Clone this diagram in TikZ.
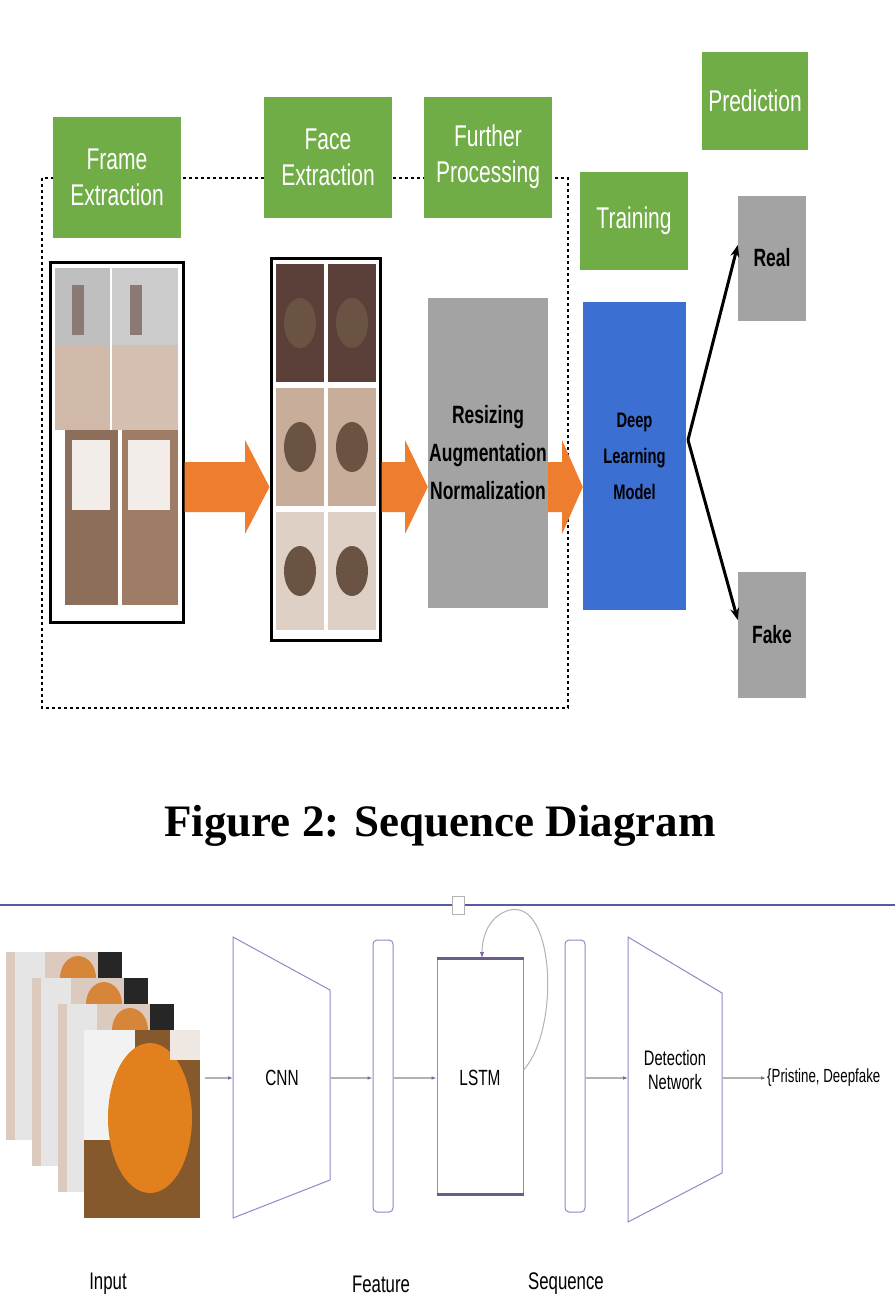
\documentclass[tikz,border=0pt]{standalone}
\usepackage{fontspec}
\setmainfont{Liberation Serif}
\newfontfamily\cond[FakeStretch=0.7]{Liberation Sans}
\usetikzlibrary{arrows.meta}
\definecolor{grn}{HTML}{70AD47}
\definecolor{gry}{HTML}{A3A3A3}
\definecolor{blu}{HTML}{3C6FD2}
\definecolor{org}{HTML}{EE7D2F}
\definecolor{pur}{HTML}{9A84C4}
\definecolor{skin}{HTML}{B08A70}
\definecolor{dsk}{HTML}{5A4038}
\begin{document}
\begin{tikzpicture}[x=1pt,y=-1pt,
  lbl/.style={fill=grn,text=white,font=\cond\fontsize{30}{36}\selectfont,align=center,inner sep=0pt},
  proc/.style={draw=none,font=\cond\bfseries\fontsize{25}{38}\selectfont,align=center,inner sep=0pt},
  pl/.style={draw=pur,line width=1pt},
  pa/.style={draw=gray!60,line width=2pt,-{Latex[length=5pt,color=pur!80!black]}},
  small/.style={font=\cond\fontsize{22}{24}\selectfont,align=center}]
\useasboundingbox (0,0) rectangle (895,1302);
\fill[white] (0,0) rectangle (895,1302);
\draw[dashed,line width=1.3pt] (42,178) rectangle (568,708);
\node[lbl,minimum width=128pt,minimum height=121pt] (l1) at (117,177) {Frame\\Extraction};
\node[lbl,minimum width=128pt,minimum height=121pt] (l2) at (328,157) {Face\\Extraction};
\node[lbl,minimum width=128pt,minimum height=121pt] (l3) at (488,157) {Further\\Processing};
\node[lbl,minimum width=108pt,minimum height=98pt] (l4) at (634,221) {Training};
\node[lbl,minimum width=106pt,minimum height=98pt] (l5) at (755,101) {Prediction};
% frame images
\fill[gray!50] (55,268) rectangle (110,345);
\fill[gray!40] (112,268) rectangle (178,345);
\fill[dsk!70] (72,285) rectangle (84,335);
\fill[dsk!70] (130,285) rectangle (142,335);
\fill[skin!60] (55,345) rectangle (110,430);
\fill[skin!55] (112,345) rectangle (178,430);
\fill[skin!80!black] (65,430) rectangle (118,605);
\fill[skin!90!black] (122,430) rectangle (178,605);
\fill[white!85!skin] (72,440) rectangle (110,510);
\fill[white!85!skin] (128,440) rectangle (170,510);
\node[draw,line width=3pt,minimum width=133pt,minimum height=360pt,inner sep=0pt] (fr) at (116.5,442) {};
% faces
\foreach \r/\c in {0/dsk,1/skin!70,2/white!60!skin}{
  \foreach \cc in {0,1}{
    \fill[\c] (276+\cc*52,264+\r*124) rectangle (324+\cc*52,382+\r*124);
    \fill[skin!60!black] (300+\cc*52,323+\r*124) ellipse (16 and 25);
  }}
\node[draw,line width=3pt,minimum width=109pt,minimum height=382pt,inner sep=0pt] (fc) at (325.5,449) {};
\node[proc,fill=gry,minimum width=120pt,minimum height=310pt] (gp) at (488,453) {Resizing\\Augmentation\\Normalization};
\node[proc,fill=blu,minimum width=103pt,minimum height=308pt,text width=103pt,font=\cond\bfseries\fontsize{21}{36}\selectfont] (dl) at (634.5,456) {Deep Learning\\Model};
\node[proc,fill=gry,minimum width=68pt,minimum height=125pt] (real) at (772,258) {Real};
\node[proc,fill=gry,minimum width=68pt,minimum height=126pt] (fake) at (772,635) {Fake};
% orange arrows
\fill[org] (fr.east|-0,462) -- (245,462) -- (245,440) -- (fc.west|-0,487) -- (245,534) -- (245,512) -- (fr.east|-0,512) -- cycle;
\fill[org] (fc.east|-0,462) -- (405,462) -- (405,440) -- (gp.west|-0,487) -- (405,534) -- (405,512) -- (fc.east|-0,512) -- cycle;
\fill[org] (gp.east|-0,462) -- (562,462) -- (562,440) -- (dl.west|-0,487) -- (562,534) -- (562,512) -- (gp.east|-0,512) -- cycle;
\coordinate (sp) at (688,440);
\draw[line width=3pt,-{Stealth[length=12pt]}] (sp) -- (real.west|-0,245);
\draw[line width=3pt,-{Stealth[length=12pt]}] (sp) -- (fake.west|-0,620);
\node[font=\bfseries\fontsize{45}{48}\selectfont] (cap) at (440,826) {Figure 2: Sequence Diagram};
% bottom
\draw[gray!70!blue,line width=1.5pt] (0,905) -- (895,905);
\draw[gray!60,fill=white] (452,896) rectangle (464,914);
\foreach \i in {0,1,2,3}{
  \fill[black!85] (\i*26+6,952+\i*26) rectangle (\i*26+122,1140+\i*26);
  \fill[skin!45] (\i*26+6,952+\i*26) rectangle (\i*26+98,1140+\i*26);
  \fill[white!80!gray] (\i*26+15,952+\i*26) rectangle (\i*26+45,1140+\i*26);
  \fill[orange!50!skin] (\i*26+78,978+\i*26) ellipse (18 and 22);
}
\fill[brown!70!black] (84,1030) rectangle (200,1218);
\fill[white!90!gray] (84,1030) rectangle (135,1140);
\fill[orange!55!brown] (150,1118) ellipse (42 and 75);
\fill[white!80!skin] (170,1030) rectangle (200,1060);
% CNN
\draw[pl,fill=white] (233,937) -- (330,990) -- (330,1180) -- (233,1218) -- cycle;
\node[small] (cnn) at (282,1078) {CNN};
\coordinate (cnnl) at (233,1078);
\coordinate (cnnr) at (330,1078);
\node[draw=pur,line width=1pt,rounded corners=4pt,minimum width=20pt,minimum height=272pt,inner sep=0pt] (feat) at (383,1076) {};
\node[draw=pur,line width=1pt,minimum width=86pt,minimum height=235pt,inner sep=0pt] (lstm) at (480,1076) {};
\draw[pur!70!black,line width=3pt] (lstm.north west) -- (lstm.north east);
\draw[pur!70!black,line width=3pt] (lstm.south west) -- (lstm.south east);
\node[small] at (480,1078) {LSTM};
\node[draw=pur,line width=1pt,rounded corners=4pt,minimum width=20pt,minimum height=272pt,inner sep=0pt] (seq) at (575,1076) {};
\draw[pl,fill=white] (628,937) -- (722,993) -- (722,1173) -- (628,1222) -- cycle;
\node[small,font=\cond\fontsize{21}{24}\selectfont] (det) at (675,1070) {Detection\\Network};
\coordinate (detl) at (628,1078);
\coordinate (detr) at (722,1078);
\node[small,anchor=west,inner sep=1pt,font=\cond\fontsize{19}{22}\selectfont] (out) at (766,1078) {\{Pristine, Deepfake};
\draw[pa] (205,1078) -- (cnnl);
\draw[pa] (cnnr) -- (feat.west|-0,1078);
\draw[pa] (feat.east|-0,1078) -- (lstm.west|-0,1078);
\draw[pa] (seq.east|-0,1078) -- (detl);
\draw[pa] (detr) -- (out.west);
\draw[gray!60,line width=1pt,-{Latex[length=6pt,color=pur!80!black]}] (lstm.east|-0,1070) .. controls (560,1030) and (555,900) .. (510,910) .. controls (490,915) and (482,935) .. (482,958);
\node[small,font=\cond\fontsize{24}{26}\selectfont] (ti) at (108,1284) {Input};
\node[small,font=\cond\fontsize{24}{26}\selectfont] (tf) at (381,1284) {Feature};
\node[small,font=\cond\fontsize{24}{26}\selectfont] (ts) at (566,1284) {Sequence};
\end{tikzpicture}
\end{document}
